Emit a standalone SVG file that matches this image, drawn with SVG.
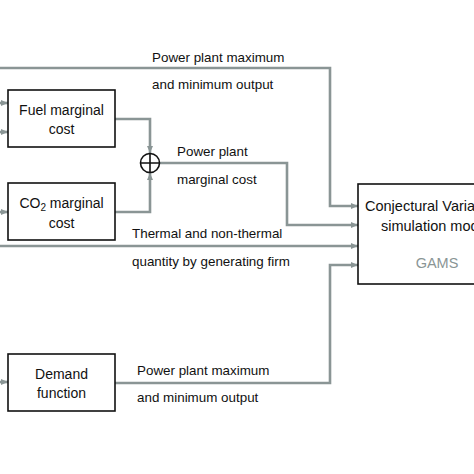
<svg xmlns="http://www.w3.org/2000/svg" width="474" height="474" viewBox="0 0 474 474">
<defs>
<marker id="ah" markerWidth="8" markerHeight="8" refX="7" refY="4" orient="auto" markerUnits="userSpaceOnUse">
<path d="M0,1 L7,4 L0,7 Z" fill="#8a9595"/>
</marker>
</defs>
<style>
.box{fill:#fff;stroke:#111;stroke-width:1.6}
.ln{fill:none;stroke:#8a9595;stroke-width:2.6}
.t{font-family:"Liberation Sans",Arial,sans-serif;font-size:14px;fill:#111}
.lb{font-family:"Liberation Sans",Arial,sans-serif;font-size:13.4px;fill:#111}
.g{font-family:"Liberation Sans",Arial,sans-serif;font-size:14.5px;fill:#8a9595}
.c{font-family:"Liberation Sans",Arial,sans-serif;font-size:14.5px;fill:#111}
</style>
<rect width="474" height="474" fill="#fff"/>
<g id="connectors">
<path class="ln" d="M0,103 H8" marker-end="url(#ah)"/>
<path class="ln" d="M0,132 H8" marker-end="url(#ah)"/>
<path class="ln" d="M0,212 H8" marker-end="url(#ah)"/>
<path class="ln" d="M0,382 H8" marker-end="url(#ah)"/>
<path class="ln" d="M115,119 H150 V153" marker-end="url(#ah)"/>
<path class="ln" d="M115,212 H150 V173" marker-end="url(#ah)"/>
<path class="ln" d="M0,68 H330 V206 H358" marker-end="url(#ah)"/>
<path class="ln" d="M160,163 H287 V225 H358" marker-end="url(#ah)"/>
<path class="ln" d="M0,246 H358" marker-end="url(#ah)"/>
<path class="ln" d="M115,383 H330 V265 H358" marker-end="url(#ah)"/>
</g>
<g id="labels">
<text class="lb" x="152" y="62">Power plant maximum</text>
<text class="lb" x="152" y="89">and minimum output</text>
<text class="lb" x="177" y="156">Power plant</text>
<text class="lb" x="177" y="184">marginal cost</text>
<text class="lb" x="132" y="238">Thermal and non-thermal</text>
<text class="lb" x="132" y="266">quantity by generating firm</text>
<text class="lb" x="137" y="375">Power plant maximum</text>
<text class="lb" x="137" y="402">and minimum output</text>
</g>
<g id="fuel">
<rect class="box" x="8" y="90" width="107" height="57"/>
<text class="t" x="61.5" y="115" text-anchor="middle">Fuel marginal</text>
<text class="t" x="61.5" y="134" text-anchor="middle">cost</text>
</g>
<g id="co2">
<rect class="box" x="8" y="183" width="107" height="57"/>
<text class="t" x="61.5" y="208" text-anchor="middle">CO<tspan font-size="10" dy="3">2</tspan><tspan dy="-3"> marginal</tspan></text>
<text class="t" x="61.5" y="228" text-anchor="middle">cost</text>
</g>
<g id="sum">
<circle cx="150" cy="163" r="9.5" fill="#fff" stroke="#111" stroke-width="1.6"/>
<path d="M140.5,163 H159.5 M150,153.5 V172.5" stroke="#111" stroke-width="1.6"/>
</g>
<g id="demand">
<rect class="box" x="8" y="354" width="107" height="57"/>
<text class="t" x="61.5" y="379" text-anchor="middle">Demand</text>
<text class="t" x="61.5" y="398" text-anchor="middle">function</text>
</g>
<g id="gams">
<rect class="box" x="358" y="184" width="140" height="100"/>
<text class="c" x="365" y="211">Conjectural Variations</text>
<text class="c" x="381" y="231">simulation model</text>
<text class="g" x="437" y="268" text-anchor="middle">GAMS</text>
</g>
</svg>
